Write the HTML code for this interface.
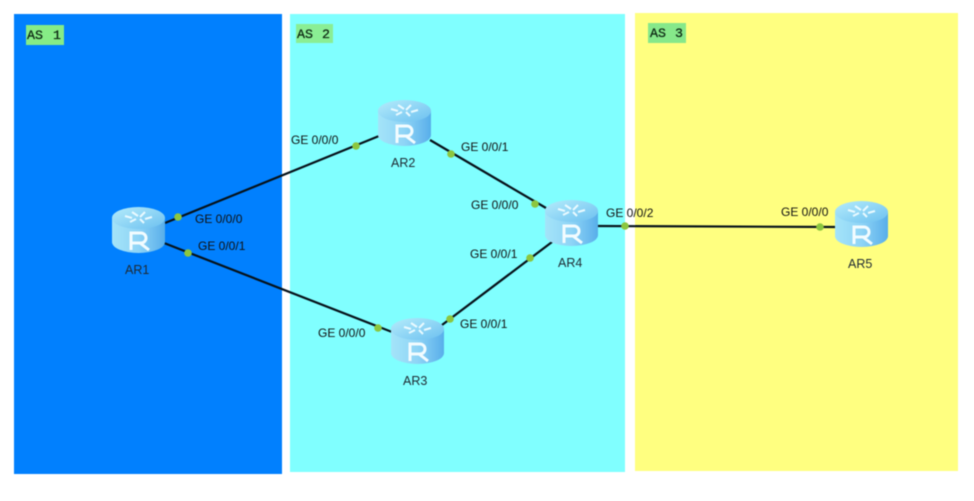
<!DOCTYPE html>
<html>
<head>
<meta charset="utf-8">
<style>
html,body{margin:0;padding:0;background:#fff;width:974px;height:501px;overflow:hidden}
svg{display:block;filter:blur(.5px)}
.l{font:12px "Liberation Sans",sans-serif;fill:#111}
.n{font:12.500px "Liberation Sans",sans-serif;fill:#1f2a33}
.as{font-family:"Liberation Mono",monospace;font-size:13.300px;fill:#0c2612;stroke:#0c2612;stroke-width:.25}
</style>
</head>
<body>
<svg width="974" height="501" viewBox="0 0 974 501" xmlns="http://www.w3.org/2000/svg">
<defs>
<linearGradient id="b" x1="0" x2="1" y1="0" y2="0">
<stop offset="0" stop-color="#a4e4f9"/><stop offset=".5" stop-color="#8fd4f6"/><stop offset="1" stop-color="#58aeea"/>
</linearGradient>
<linearGradient id="t" x1="0" x2="1" y1="0" y2="1">
<stop offset="0" stop-color="#b5ecfb"/><stop offset="1" stop-color="#6cc0f0"/>
</linearGradient>
<g id="r">
<path d="M0 11V35A26.500 11 0 0 0 53 35V11Z" fill="url(#b)"/>
<ellipse cx="26.500" cy="11" rx="26.500" ry="11" fill="url(#t)"/>
<path d="M13 9l7 2M20 5l6 4M33 5l-5 5M40 10l-7 2M18 15l6-3M32 16l-4-4" stroke="#eafaff" stroke-width="2" fill="none"/>
<path d="M19 43V26h10a5 5 0 0 1 0 10h-10M28 36l9 7" stroke="#f2fcff" stroke-width="3" fill="none"/>
</g>
</defs>

<rect x="14" y="14" width="268" height="460" fill="#0180fe"/>
<rect x="290" y="14" width="335" height="458" fill="#80ffff"/>
<rect x="635" y="13" width="323" height="458" fill="#ffff80"/>

<rect x="26" y="25" width="38" height="20" fill="#86ec86"/>
<rect x="296" y="24" width="37" height="19" fill="#8aee94"/>
<rect x="648" y="23" width="38" height="20" fill="#86e88a"/>
<text class="as" x="27" y="39">AS</text><text class="as" x="53" y="39">1</text>
<text class="as" x="297" y="38">AS</text><text class="as" x="322" y="38">2</text>
<text class="as" x="650" y="37">AS</text><text class="as" x="675" y="37">3</text>

<g stroke="#06121a" stroke-width="2.200" fill="none">
<line x1="165" y1="223" x2="379" y2="136"/>
<line x1="430" y1="140" x2="546" y2="208"/>
<line x1="164" y1="243" x2="392" y2="332"/>
<line x1="442" y1="325" x2="552" y2="242"/>
<line x1="597" y1="226" x2="836" y2="227"/>
</g>

<use href="#r" x="112" y="207"/>
<use href="#r" x="378" y="100"/>
<use href="#r" x="391" y="318"/>
<use href="#r" x="545" y="200"/>
<use href="#r" x="835" y="201"/>

<g fill="#8cc63f">
<circle cx="178" cy="217" r="3.800"/>
<circle cx="188" cy="253" r="3.800"/>
<circle cx="356" cy="146" r="3.800"/>
<circle cx="451" cy="154" r="3.800"/>
<circle cx="535" cy="204" r="3.800"/>
<circle cx="530" cy="258" r="3.800"/>
<circle cx="450" cy="319" r="3.800"/>
<circle cx="378" cy="328" r="3.800"/>
<circle cx="625" cy="226" r="3.800"/>
<circle cx="820" cy="227" r="3.800"/>
</g>

<text class="l" x="195" y="223">GE 0/0/0</text>
<text class="l" x="198" y="250">GE 0/0/1</text>
<text class="l" x="291" y="144">GE 0/0/0</text>
<text class="l" x="461" y="151">GE 0/0/1</text>
<text class="l" x="471" y="209">GE 0/0/0</text>
<text class="l" x="470" y="258">GE 0/0/1</text>
<text class="l" x="460" y="328">GE 0/0/1</text>
<text class="l" x="318" y="337">GE 0/0/0</text>
<text class="l" x="606" y="217">GE 0/0/2</text>
<text class="l" x="781" y="216">GE 0/0/0</text>

<text class="n" x="125" y="274">AR1</text>
<text class="n" x="391" y="167">AR2</text>
<text class="n" x="403" y="385">AR3</text>
<text class="n" x="558" y="267">AR4</text>
<text class="n" x="848" y="268">AR5</text>
</svg>
</body>
</html>
